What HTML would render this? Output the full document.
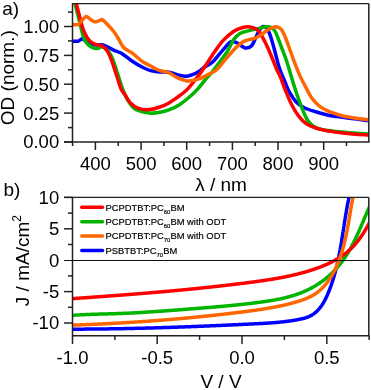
<!DOCTYPE html>
<html><head><meta charset="utf-8"><style>
html,body{margin:0;padding:0;background:#fff;width:371px;height:390px;overflow:hidden;}
svg{display:block;font-family:"Liberation Sans",sans-serif;will-change:transform;}
</style></head><body>
<svg width="371" height="390" viewBox="0 0 371 390" font-family="Liberation Sans, sans-serif" fill="#000"><clipPath id="c1"><rect x="72.5" y="3.6" width="296.3" height="138.4"/></clipPath>
<clipPath id="c2"><rect x="72.5" y="197.4" width="296.3" height="138.4"/></clipPath>
<g clip-path="url(#c1)" fill="none" stroke-width="3.5" stroke-linejoin="round" stroke-linecap="round">
<path d="M72.0,41.2 C73.0,41.2 76.4,41.6 78.1,41.2 C79.8,40.8 80.6,39.0 81.9,39.0 C83.2,39.0 84.7,40.3 86.0,41.0 C87.3,41.7 88.5,42.3 90.0,43.0 C91.5,43.7 92.8,44.7 94.8,45.0 C96.8,45.3 100.0,44.3 102.3,44.8 C104.6,45.2 106.6,46.7 108.8,47.7 C111.0,48.7 113.1,50.0 115.3,50.9 C117.5,51.8 119.0,51.7 121.8,53.4 C124.6,55.1 128.9,59.0 132.3,61.3 C135.7,63.6 139.1,65.5 142.0,67.0 C144.9,68.5 146.8,69.6 149.7,70.4 C152.6,71.2 156.2,71.7 159.4,72.0 C162.6,72.3 165.9,71.8 169.1,72.3 C172.3,72.8 175.8,74.5 178.8,75.2 C181.8,75.9 184.2,76.5 186.9,76.2 C189.6,75.9 192.8,74.5 195.0,73.6 C197.2,72.7 198.3,71.7 200.0,70.6 C201.7,69.5 202.8,68.3 205.0,66.8 C207.2,65.3 210.0,64.5 212.9,61.8 C215.8,59.1 219.6,53.7 222.6,50.4 C225.6,47.1 228.3,43.1 230.7,41.9 C233.1,40.6 234.8,42.0 237.2,43.0 C239.6,44.0 242.9,47.5 245.3,47.9 C247.7,48.3 249.9,47.6 251.8,45.5 C253.7,43.4 255.2,38.2 256.8,35.2 C258.4,32.2 260.2,28.7 261.7,27.4 C263.2,26.1 264.4,26.3 265.8,27.4 C267.2,28.5 268.5,30.8 269.8,34.2 C271.1,37.6 272.3,42.1 273.9,47.7 C275.5,53.3 277.5,62.2 279.3,67.9 C281.1,73.6 283.2,77.6 284.9,81.7 C286.6,85.8 287.8,89.3 289.7,92.7 C291.6,96.0 293.8,99.5 296.2,102.0 C298.6,104.5 301.1,106.1 304.3,107.7 C307.5,109.3 311.6,110.5 315.6,111.8 C319.6,113.0 323.7,114.2 328.5,115.2 C333.3,116.2 337.4,116.6 344.6,117.6 C351.9,118.6 367.4,120.4 372.0,121.0" stroke="#0000ff"/>
<path d="M73.5,-2.0 C73.7,-1.1 73.9,-0.4 74.8,3.2 C75.7,6.8 77.6,14.0 79.0,19.4 C80.4,24.8 81.7,31.6 83.0,35.6 C84.3,39.6 85.3,41.3 86.9,43.3 C88.5,45.3 90.8,46.8 92.6,47.7 C94.4,48.6 95.9,48.6 97.5,48.5 C99.1,48.4 100.5,46.5 102.3,46.9 C104.0,47.3 106.2,48.8 108.0,50.9 C109.8,53.0 111.3,55.8 112.9,59.7 C114.5,63.6 116.2,69.5 117.8,74.3 C119.4,79.1 120.9,84.4 122.6,88.8 C124.3,93.2 125.8,97.0 128.0,100.5 C130.2,104.0 132.2,107.5 135.8,109.6 C139.4,111.7 145.3,112.5 149.3,113.0 C153.3,113.5 156.6,112.9 160.0,112.3 C163.4,111.7 166.3,110.8 169.5,109.6 C172.7,108.4 175.6,107.3 179.1,105.0 C182.6,102.7 187.4,98.8 190.6,96.0 C193.8,93.2 195.9,91.0 198.3,88.3 C200.7,85.6 202.8,82.6 205.0,80.0 C207.2,77.4 209.1,75.7 211.7,72.5 C214.3,69.3 217.8,64.7 220.6,60.9 C223.4,57.1 226.2,53.3 228.3,49.8 C230.5,46.2 231.5,42.5 233.5,39.8 C235.5,37.1 237.6,34.9 240.4,33.3 C243.2,31.7 247.2,31.1 250.1,30.4 C253.0,29.6 255.1,29.4 257.7,28.8 C260.3,28.2 263.6,27.0 265.8,26.8 C268.1,26.6 269.6,26.6 271.2,27.4 C272.8,28.2 273.6,28.6 275.2,31.5 C276.8,34.4 278.7,40.1 280.6,45.0 C282.5,49.9 284.7,55.4 286.5,60.7 C288.3,66.0 289.7,71.3 291.3,76.5 C292.9,81.8 294.4,87.0 296.2,92.3 C298.0,97.6 300.1,103.5 302.0,108.1 C303.9,112.7 305.1,116.8 307.5,120.1 C309.9,123.4 311.8,126.0 316.2,127.8 C320.6,129.7 324.4,130.1 333.7,131.2 C343.0,132.3 365.6,133.8 372.0,134.3" stroke="#00b400"/>
<path d="M74.5,-2.0 C74.8,-1.1 75.4,0.2 76.2,3.2 C77.0,6.2 78.4,12.0 79.5,16.2 C80.6,20.4 81.6,24.8 82.8,28.3 C84.0,31.8 85.5,34.9 86.9,37.2 C88.4,39.6 89.7,41.1 91.5,42.4 C93.3,43.7 95.7,44.4 97.5,45.0 C99.3,45.6 100.7,45.1 102.3,46.1 C103.9,47.1 105.7,48.6 107.2,50.9 C108.7,53.2 109.8,55.8 111.3,59.7 C112.8,63.6 114.6,69.5 116.2,74.3 C117.8,79.1 119.5,85.4 121.0,88.8 C122.5,92.2 123.4,92.4 125.0,94.8 C126.6,97.2 128.2,100.7 130.4,102.9 C132.7,105.2 135.3,107.2 138.5,108.3 C141.7,109.4 145.7,109.8 149.3,109.6 C152.9,109.4 156.8,108.1 160.0,107.0 C163.2,105.9 165.5,104.9 168.5,103.2 C171.5,101.5 174.7,99.2 177.8,97.0 C180.9,94.8 184.3,92.3 186.9,89.8 C189.5,87.3 191.3,84.7 193.5,81.9 C195.7,79.1 197.9,76.5 200.3,73.2 C202.7,69.9 205.3,66.0 207.8,62.2 C210.3,58.4 212.9,54.2 215.5,50.6 C218.1,47.0 220.2,43.6 223.2,40.4 C226.2,37.2 230.4,33.6 233.5,31.5 C236.6,29.4 239.2,28.5 242.0,27.7 C244.8,26.9 247.7,26.6 250.1,26.9 C252.5,27.2 254.9,28.2 256.6,29.3 C258.3,30.4 258.9,31.1 260.4,33.5 C261.9,35.9 264.0,39.9 265.8,43.6 C267.6,47.3 269.4,51.4 271.2,55.7 C273.0,60.0 275.1,65.8 276.6,69.2 C278.1,72.6 278.6,72.8 280.0,76.1 C281.4,79.4 283.0,84.3 284.9,89.0 C286.8,93.7 289.0,99.5 291.3,104.0 C293.6,108.6 296.0,112.8 298.7,116.2 C301.4,119.6 303.5,122.2 307.5,124.5 C311.5,126.8 316.6,128.5 322.8,129.9 C329.0,131.3 336.4,132.3 344.6,133.2 C352.8,134.1 367.4,135.0 372.0,135.4" stroke="#ff0000"/>
<path d="M72.0,24.6 C73.0,24.6 76.4,25.0 78.1,24.3 C79.8,23.6 80.8,21.5 82.1,20.2 C83.4,18.9 85.0,16.8 86.2,16.5 C87.4,16.2 88.1,17.7 89.4,18.6 C90.8,19.5 92.7,21.5 94.3,21.8 C95.9,22.1 97.8,21.1 99.1,20.7 C100.4,20.3 100.9,19.1 102.3,19.7 C103.7,20.3 105.3,22.3 107.2,24.3 C109.1,26.3 111.8,29.1 113.7,31.5 C115.6,33.9 116.8,36.1 118.5,38.8 C120.2,41.5 121.3,45.1 123.6,47.5 C125.9,49.9 129.2,50.9 132.3,53.2 C135.4,55.5 139.1,59.2 142.0,61.3 C144.9,63.3 146.8,64.0 149.7,65.5 C152.6,67.0 156.2,69.2 159.4,70.4 C162.6,71.6 166.1,71.6 169.1,72.8 C172.1,74.0 174.2,76.3 177.2,77.7 C180.2,79.1 183.9,80.5 186.9,80.9 C189.9,81.3 192.8,80.5 195.0,80.1 C197.2,79.7 198.3,79.1 200.0,78.5 C201.7,77.9 203.3,77.1 205.0,76.3 C206.7,75.5 208.1,74.5 210.0,73.5 C211.9,72.5 213.5,72.4 216.2,70.0 C218.8,67.6 222.7,62.5 225.9,58.9 C229.1,55.2 232.6,50.8 235.6,47.9 C238.6,45.0 241.0,42.9 243.7,41.4 C246.4,39.9 249.9,39.5 251.8,39.0 C253.7,38.5 253.3,39.0 255.0,38.2 C256.6,37.4 259.4,35.7 261.7,34.2 C263.9,32.8 266.2,30.7 268.5,29.5 C270.8,28.3 273.2,26.9 275.2,26.8 C277.2,26.7 279.0,27.4 280.6,28.8 C282.2,30.2 283.0,32.0 284.6,35.5 C286.2,39.0 288.5,45.8 290.0,50.0 C291.5,54.1 292.1,56.2 293.7,60.4 C295.3,64.5 297.4,70.1 299.4,74.6 C301.4,79.1 303.8,83.5 305.9,87.5 C308.0,91.5 309.9,95.6 312.3,98.8 C314.7,102.0 317.4,104.7 320.4,106.9 C323.4,109.1 325.7,110.2 330.1,111.8 C334.5,113.4 339.8,115.4 346.8,116.8 C353.8,118.2 367.8,119.7 372.0,120.3" stroke="#ff6600"/>
</g>
<line x1="72.5" y1="3.6" x2="368.8" y2="3.6" stroke="#222" stroke-width="1.20"/>
<line x1="368.8" y1="3.6" x2="368.8" y2="142.0" stroke="#222" stroke-width="1.50"/>
<line x1="64.0" y1="142.0" x2="369.6" y2="142.0" stroke="#222" stroke-width="1.50"/>
<line x1="72.5" y1="3.1" x2="72.5" y2="142.8" stroke="#222" stroke-width="1.50"/>
<line x1="64.0" y1="142.0" x2="72.5" y2="142.0" stroke="#222" stroke-width="1.50"/>
<text x="59.2" y="148.4" text-anchor="end" font-size="18.5">0.00</text>
<line x1="64.0" y1="113.1" x2="72.5" y2="113.1" stroke="#222" stroke-width="1.50"/>
<text x="59.2" y="119.5" text-anchor="end" font-size="18.5">0.25</text>
<line x1="64.0" y1="84.2" x2="72.5" y2="84.2" stroke="#222" stroke-width="1.50"/>
<text x="59.2" y="90.7" text-anchor="end" font-size="18.5">0.50</text>
<line x1="64.0" y1="55.4" x2="72.5" y2="55.4" stroke="#222" stroke-width="1.50"/>
<text x="59.2" y="61.8" text-anchor="end" font-size="18.5">0.75</text>
<line x1="64.0" y1="26.5" x2="72.5" y2="26.5" stroke="#222" stroke-width="1.50"/>
<text x="59.2" y="32.9" text-anchor="end" font-size="18.5">1.00</text>
<line x1="68.0" y1="127.6" x2="72.5" y2="127.6" stroke="#222" stroke-width="1.50"/>
<line x1="68.0" y1="98.7" x2="72.5" y2="98.7" stroke="#222" stroke-width="1.50"/>
<line x1="68.0" y1="69.8" x2="72.5" y2="69.8" stroke="#222" stroke-width="1.50"/>
<line x1="68.0" y1="40.9" x2="72.5" y2="40.9" stroke="#222" stroke-width="1.50"/>
<line x1="68.0" y1="12.1" x2="72.5" y2="12.1" stroke="#222" stroke-width="1.50"/>
<line x1="95.4" y1="142.0" x2="95.4" y2="150.0" stroke="#222" stroke-width="1.50"/>
<text x="95.4" y="170.4" text-anchor="middle" font-size="18.5">400</text>
<line x1="141.1" y1="142.0" x2="141.1" y2="150.0" stroke="#222" stroke-width="1.50"/>
<text x="141.1" y="170.4" text-anchor="middle" font-size="18.5">500</text>
<line x1="186.7" y1="142.0" x2="186.7" y2="150.0" stroke="#222" stroke-width="1.50"/>
<text x="186.7" y="170.4" text-anchor="middle" font-size="18.5">600</text>
<line x1="232.4" y1="142.0" x2="232.4" y2="150.0" stroke="#222" stroke-width="1.50"/>
<text x="232.4" y="170.4" text-anchor="middle" font-size="18.5">700</text>
<line x1="278.0" y1="142.0" x2="278.0" y2="150.0" stroke="#222" stroke-width="1.50"/>
<text x="278.0" y="170.4" text-anchor="middle" font-size="18.5">800</text>
<line x1="323.7" y1="142.0" x2="323.7" y2="150.0" stroke="#222" stroke-width="1.50"/>
<text x="323.7" y="170.4" text-anchor="middle" font-size="18.5">900</text>
<line x1="72.6" y1="142.0" x2="72.6" y2="146.0" stroke="#222" stroke-width="1.50"/>
<line x1="118.2" y1="142.0" x2="118.2" y2="146.0" stroke="#222" stroke-width="1.50"/>
<line x1="163.9" y1="142.0" x2="163.9" y2="146.0" stroke="#222" stroke-width="1.50"/>
<line x1="209.6" y1="142.0" x2="209.6" y2="146.0" stroke="#222" stroke-width="1.50"/>
<line x1="255.2" y1="142.0" x2="255.2" y2="146.0" stroke="#222" stroke-width="1.50"/>
<line x1="300.9" y1="142.0" x2="300.9" y2="146.0" stroke="#222" stroke-width="1.50"/>
<line x1="346.5" y1="142.0" x2="346.5" y2="146.0" stroke="#222" stroke-width="1.50"/>
<text x="221" y="191.3" text-anchor="middle" font-size="19">&#955; / nm</text>
<text transform="translate(14.2,77.7) rotate(-90)" text-anchor="middle" font-size="19">OD (norm.)</text>
<text x="2.3" y="14.6" font-size="19">a)</text>
<g clip-path="url(#c2)" fill="none" stroke-width="3.5" stroke-linejoin="round" stroke-linecap="round">
<path d="M70.84,329.17 L72.84,329.17 L73.34,329.17 L73.84,329.17 L74.34,329.16 L74.84,329.16 L75.33,329.16 L75.83,329.16 L76.33,329.16 L76.83,329.16 L77.32,329.16 L77.82,329.16 L78.32,329.15 L78.82,329.15 L79.31,329.15 L79.81,329.15 L80.31,329.15 L80.80,329.14 L81.30,329.14 L81.80,329.14 L82.29,329.14 L82.79,329.13 L83.29,329.13 L83.78,329.13 L84.28,329.13 L84.78,329.12 L85.27,329.12 L85.77,329.12 L86.27,329.11 L86.76,329.11 L87.26,329.11 L87.76,329.10 L88.25,329.10 L88.75,329.10 L89.24,329.09 L89.74,329.09 L90.24,329.09 L90.73,329.08 L91.23,329.08 L91.72,329.07 L92.22,329.07 L92.72,329.06 L93.21,329.06 L93.71,329.06 L94.20,329.05 L94.70,329.05 L95.19,329.04 L95.69,329.04 L96.18,329.03 L96.68,329.03 L97.17,329.02 L97.67,329.02 L98.17,329.01 L98.66,329.00 L99.16,329.00 L99.65,328.99 L100.15,328.99 L100.64,328.98 L101.14,328.98 L101.63,328.97 L102.13,328.96 L102.62,328.96 L103.12,328.95 L103.61,328.95 L104.10,328.94 L104.60,328.93 L105.09,328.93 L105.59,328.92 L106.08,328.91 L106.58,328.91 L107.07,328.90 L107.57,328.89 L108.06,328.89 L108.56,328.88 L109.05,328.87 L109.54,328.86 L110.04,328.86 L110.53,328.85 L111.03,328.84 L111.52,328.83 L112.01,328.83 L112.51,328.82 L113.00,328.81 L113.50,328.80 L113.99,328.79 L114.48,328.79 L114.98,328.78 L115.47,328.77 L115.97,328.76 L116.46,328.75 L116.95,328.74 L117.45,328.74 L117.94,328.73 L118.44,328.72 L118.93,328.71 L119.42,328.70 L119.92,328.69 L120.41,328.68 L120.90,328.67 L121.40,328.66 L121.89,328.65 L122.38,328.64 L122.88,328.64 L123.37,328.63 L123.86,328.62 L124.36,328.61 L124.85,328.60 L125.34,328.59 L125.84,328.58 L126.33,328.57 L126.82,328.56 L127.32,328.55 L127.81,328.54 L128.30,328.53 L128.80,328.51 L129.29,328.50 L129.78,328.49 L130.28,328.48 L130.77,328.47 L131.26,328.46 L131.75,328.45 L132.25,328.44 L132.74,328.43 L133.23,328.42 L133.73,328.41 L134.22,328.39 L134.71,328.38 L135.20,328.37 L135.70,328.36 L136.19,328.35 L136.68,328.34 L137.18,328.33 L137.67,328.31 L138.16,328.30 L138.65,328.29 L139.15,328.28 L139.64,328.27 L140.13,328.25 L140.62,328.24 L141.12,328.23 L141.61,328.22 L142.10,328.20 L142.60,328.19 L143.09,328.18 L143.58,328.17 L144.07,328.15 L144.57,328.14 L145.06,328.13 L145.55,328.11 L146.04,328.10 L146.54,328.09 L147.03,328.08 L147.52,328.06 L148.01,328.05 L148.51,328.04 L149.00,328.02 L149.49,328.01 L149.98,327.99 L150.48,327.98 L150.97,327.97 L151.46,327.95 L151.95,327.94 L152.44,327.93 L152.94,327.91 L153.43,327.90 L153.92,327.88 L154.41,327.87 L154.91,327.86 L155.40,327.84 L155.89,327.83 L156.38,327.81 L156.88,327.80 L157.37,327.78 L157.86,327.77 L158.35,327.75 L158.85,327.74 L159.34,327.72 L159.83,327.71 L160.32,327.69 L160.81,327.68 L161.31,327.66 L161.80,327.65 L162.29,327.63 L162.78,327.62 L163.28,327.60 L163.77,327.59 L164.26,327.57 L164.75,327.56 L165.25,327.54 L165.74,327.52 L166.23,327.51 L166.72,327.49 L167.21,327.48 L167.71,327.46 L168.20,327.44 L168.69,327.43 L169.18,327.41 L169.68,327.40 L170.17,327.38 L170.66,327.36 L171.15,327.35 L171.65,327.33 L172.14,327.31 L172.63,327.30 L173.12,327.28 L173.62,327.26 L174.11,327.25 L174.60,327.23 L175.09,327.21 L175.59,327.20 L176.08,327.18 L176.57,327.16 L177.06,327.14 L177.56,327.13 L178.05,327.11 L178.54,327.09 L179.03,327.08 L179.53,327.06 L180.02,327.04 L180.51,327.02 L181.00,327.01 L181.50,326.99 L181.99,326.97 L182.48,326.95 L182.97,326.93 L183.47,326.92 L183.96,326.90 L184.45,326.88 L184.94,326.86 L185.44,326.84 L185.93,326.83 L186.42,326.81 L186.91,326.79 L187.41,326.77 L187.90,326.75 L188.39,326.73 L188.89,326.72 L189.38,326.70 L189.87,326.68 L190.36,326.66 L190.86,326.64 L191.35,326.62 L191.84,326.60 L192.34,326.58 L192.83,326.56 L193.32,326.55 L193.82,326.53 L194.31,326.51 L194.80,326.49 L195.29,326.47 L195.79,326.45 L196.28,326.43 L196.77,326.41 L197.27,326.39 L197.76,326.37 L198.25,326.35 L198.75,326.33 L199.24,326.31 L199.73,326.29 L200.23,326.27 L200.72,326.25 L201.21,326.23 L201.71,326.21 L202.20,326.19 L202.69,326.17 L203.19,326.15 L203.68,326.13 L204.17,326.11 L204.67,326.09 L205.16,326.07 L205.66,326.05 L206.15,326.03 L206.64,326.01 L207.14,325.99 L207.63,325.97 L208.12,325.95 L208.62,325.93 L209.11,325.91 L209.61,325.89 L210.10,325.87 L210.59,325.85 L211.09,325.82 L211.58,325.80 L212.08,325.78 L212.57,325.76 L213.06,325.74 L213.56,325.72 L214.05,325.70 L214.55,325.68 L215.04,325.66 L215.53,325.63 L216.03,325.61 L216.52,325.59 L217.02,325.57 L217.51,325.55 L218.01,325.53 L218.50,325.51 L219.00,325.48 L219.49,325.46 L219.99,325.44 L220.48,325.42 L220.97,325.40 L221.47,325.38 L221.96,325.35 L222.46,325.33 L222.95,325.31 L223.45,325.29 L223.94,325.27 L224.44,325.24 L224.93,325.22 L225.43,325.20 L225.92,325.18 L226.42,325.15 L226.92,325.13 L227.41,325.11 L227.91,325.09 L228.40,325.06 L228.90,325.04 L229.39,325.02 L229.89,325.00 L230.38,324.97 L230.88,324.95 L231.37,324.93 L231.87,324.91 L232.37,324.88 L232.86,324.86 L233.36,324.84 L233.85,324.81 L234.35,324.79 L234.85,324.77 L235.34,324.75 L235.84,324.72 L236.33,324.70 L236.83,324.68 L237.33,324.65 L237.82,324.63 L238.32,324.61 L238.82,324.58 L239.31,324.56 L239.81,324.54 L240.31,324.51 L240.80,324.49 L241.30,324.47 L241.80,324.44 L242.29,324.42 L242.79,324.39 L243.29,324.37 L243.78,324.35 L244.28,324.32 L244.78,324.30 L245.27,324.28 L245.77,324.25 L246.27,324.23 L246.77,324.20 L247.26,324.18 L247.76,324.16 L248.26,324.13 L248.76,324.11 L249.25,324.08 L249.75,324.06 L250.25,324.04 L250.75,324.01 L251.24,323.99 L251.74,323.96 L252.24,323.94 L252.74,323.91 L253.24,323.89 L253.74,323.87 L254.23,323.84 L254.73,323.82 L255.23,323.79 L255.73,323.77 L256.23,323.74 L256.73,323.72 L257.22,323.69 L257.72,323.67 L258.22,323.64 L258.72,323.62 L259.22,323.59 L259.72,323.57 L260.22,323.54 L260.71,323.51 L261.21,323.49 L261.71,323.46 L262.21,323.43 L262.71,323.41 L263.21,323.38 L263.70,323.35 L264.20,323.32 L264.70,323.29 L265.20,323.26 L265.70,323.24 L266.19,323.21 L266.69,323.18 L267.19,323.14 L267.69,323.11 L268.19,323.08 L268.68,323.05 L269.18,323.02 L269.68,322.98 L270.17,322.95 L270.67,322.91 L271.17,322.88 L271.66,322.84 L272.16,322.81 L272.66,322.77 L273.15,322.73 L273.65,322.70 L274.14,322.66 L274.64,322.62 L275.13,322.58 L275.63,322.54 L276.12,322.49 L276.62,322.45 L277.11,322.41 L277.61,322.36 L278.10,322.32 L278.60,322.27 L279.09,322.23 L279.58,322.18 L280.07,322.13 L280.57,322.08 L281.06,322.03 L281.55,321.98 L282.04,321.93 L282.53,321.88 L283.03,321.82 L283.52,321.77 L284.01,321.71 L284.50,321.66 L284.99,321.60 L285.48,321.54 L285.97,321.48 L286.45,321.42 L286.94,321.36 L287.43,321.29 L287.92,321.23 L288.41,321.16 L288.89,321.10 L289.38,321.03 L289.86,320.96 L290.35,320.89 L290.84,320.82 L291.32,320.74 L291.80,320.67 L292.29,320.60 L292.77,320.52 L293.26,320.44 L293.74,320.36 L294.22,320.28 L294.70,320.20 L295.18,320.12 L295.66,320.03 L296.14,319.94 L296.62,319.86 L297.10,319.77 L297.58,319.68 L298.06,319.59 L298.54,319.49 L299.02,319.40 L299.49,319.30 L299.97,319.20 L300.44,319.10 L300.92,319.00 L301.39,318.90 L301.87,318.79 L302.34,318.68 L302.81,318.57 L303.28,318.45 L303.75,318.33 L304.21,318.21 L304.68,318.08 L305.14,317.95 L305.60,317.81 L306.06,317.66 L306.51,317.51 L306.96,317.35 L307.41,317.19 L307.86,317.02 L308.30,316.84 L308.75,316.65 L309.18,316.46 L309.62,316.25 L310.05,316.04 L310.47,315.83 L310.89,315.60 L311.31,315.37 L311.73,315.13 L312.14,314.89 L312.54,314.64 L312.94,314.38 L313.34,314.11 L313.73,313.83 L314.11,313.55 L314.49,313.26 L314.87,312.97 L315.24,312.66 L315.60,312.35 L315.96,312.04 L316.32,311.72 L316.67,311.39 L317.02,311.06 L317.36,310.72 L317.70,310.37 L318.03,310.02 L318.36,309.66 L318.69,309.30 L319.01,308.93 L319.33,308.56 L319.64,308.18 L319.95,307.80 L320.25,307.41 L320.55,307.02 L320.85,306.62 L321.14,306.22 L321.43,305.81 L321.72,305.40 L322.00,304.99 L322.27,304.57 L322.55,304.15 L322.82,303.72 L323.08,303.29 L323.35,302.86 L323.61,302.42 L323.86,301.98 L324.12,301.54 L324.37,301.09 L324.61,300.64 L324.85,300.19 L325.09,299.74 L325.33,299.28 L325.56,298.82 L325.79,298.36 L326.02,297.90 L326.25,297.43 L326.47,296.97 L326.69,296.50 L326.90,296.03 L327.12,295.56 L327.33,295.08 L327.53,294.61 L327.74,294.13 L327.94,293.66 L328.14,293.18 L328.34,292.70 L328.54,292.22 L328.73,291.74 L328.92,291.27 L329.11,290.79 L329.30,290.31 L329.48,289.83 L329.66,289.35 L329.84,288.87 L330.02,288.39 L330.20,287.91 L330.37,287.43 L330.54,286.95 L330.71,286.48 L330.88,286.00 L331.05,285.53 L331.21,285.05 L331.38,284.58 L331.54,284.11 L331.70,283.64 L331.86,283.17 L332.01,282.70 L332.17,282.24 L332.32,281.77 L332.48,281.30 L332.63,280.84 L332.78,280.37 L332.92,279.91 L333.07,279.44 L333.22,278.98 L333.36,278.52 L333.50,278.06 L333.64,277.59 L333.78,277.13 L333.92,276.67 L334.06,276.21 L334.19,275.75 L334.33,275.29 L334.46,274.83 L334.59,274.37 L334.72,273.90 L334.85,273.44 L334.98,272.98 L335.11,272.52 L335.23,272.06 L335.36,271.60 L335.48,271.13 L335.60,270.67 L335.72,270.21 L335.84,269.74 L335.96,269.28 L336.08,268.81 L336.20,268.35 L336.31,267.88 L336.43,267.41 L336.54,266.95 L336.66,266.48 L336.77,266.01 L336.88,265.54 L336.99,265.07 L337.10,264.60 L337.21,264.12 L337.32,263.65 L337.42,263.18 L337.53,262.70 L337.63,262.23 L337.74,261.75 L337.84,261.28 L337.95,260.80 L338.05,260.32 L338.15,259.85 L338.25,259.37 L338.35,258.89 L338.45,258.41 L338.55,257.93 L338.64,257.45 L338.74,256.97 L338.84,256.49 L338.93,256.01 L339.03,255.52 L339.12,255.04 L339.21,254.56 L339.31,254.07 L339.40,253.59 L339.49,253.10 L339.58,252.62 L339.67,252.13 L339.76,251.64 L339.85,251.16 L339.94,250.67 L340.03,250.18 L340.12,249.70 L340.20,249.21 L340.29,248.72 L340.38,248.23 L340.46,247.74 L340.55,247.25 L340.63,246.76 L340.72,246.27 L340.80,245.78 L340.88,245.29 L340.97,244.80 L341.05,244.31 L341.13,243.81 L341.21,243.32 L341.30,242.83 L341.38,242.34 L341.46,241.84 L341.54,241.35 L341.62,240.86 L341.70,240.37 L341.78,239.87 L341.86,239.38 L341.94,238.88 L342.02,238.39 L342.10,237.90 L342.17,237.40 L342.25,236.91 L342.33,236.41 L342.41,235.92 L342.49,235.42 L342.56,234.93 L342.64,234.43 L342.72,233.94 L342.80,233.44 L342.87,232.95 L342.95,232.45 L343.03,231.96 L343.10,231.46 L343.18,230.96 L343.26,230.47 L343.34,229.97 L343.41,229.48 L343.49,228.98 L343.57,228.49 L343.64,227.99 L343.72,227.50 L343.80,227.00 L343.87,226.51 L343.95,226.01 L344.03,225.52 L344.10,225.02 L344.18,224.53 L344.26,224.03 L344.33,223.54 L344.41,223.04 L344.49,222.55 L344.57,222.05 L344.64,221.56 L344.72,221.07 L344.80,220.57 L344.88,220.08 L344.96,219.58 L345.04,219.09 L345.12,218.60 L345.20,218.11 L345.27,217.61 L345.35,217.12 L345.43,216.63 L345.52,216.14 L345.60,215.65 L345.68,215.16 L345.76,214.66 L345.84,214.17 L345.92,213.68 L346.01,213.19 L346.09,212.70 L346.17,212.21 L346.26,211.73 L346.34,211.24 L346.42,210.75 L346.51,210.26 L346.59,209.77 L346.68,209.29 L346.77,208.80 L346.85,208.31 L346.94,207.83 L347.03,207.34 L347.12,206.86 L347.21,206.37 L347.30,205.89 L347.39,205.41 L347.48,204.92 L347.57,204.44 L347.66,203.96 L347.75,203.48 L347.85,203.00 L347.94,202.52 L348.03,202.04 L348.13,201.56 L348.22,201.08 L348.32,200.60 L348.42,200.12 L348.52,199.65 L348.61,199.17 L348.71,198.70 L348.81,198.22 L348.91,197.75 L349.02,197.27 L349.12,196.80 L349.22,196.33 L349.33,195.85 L349.43,195.38 L349.54,194.91 L349.64,194.44 L349.75,193.97 L349.86,193.51 L349.97,193.04 L350.08,192.57 L350.19,192.11" stroke="#0000ff"/>
<path d="M70.76,315.44 L72.75,315.30 L73.26,315.27 L73.76,315.23 L74.27,315.20 L74.77,315.17 L75.27,315.13 L75.78,315.10 L76.28,315.07 L76.79,315.04 L77.29,315.01 L77.79,314.98 L78.29,314.95 L78.80,314.92 L79.30,314.90 L79.80,314.87 L80.30,314.84 L80.80,314.82 L81.31,314.79 L81.81,314.77 L82.31,314.74 L82.81,314.72 L83.31,314.69 L83.81,314.67 L84.31,314.65 L84.81,314.63 L85.31,314.60 L85.81,314.58 L86.31,314.56 L86.81,314.54 L87.31,314.52 L87.80,314.50 L88.30,314.48 L88.80,314.46 L89.30,314.44 L89.80,314.42 L90.29,314.41 L90.79,314.39 L91.29,314.37 L91.79,314.35 L92.28,314.34 L92.78,314.32 L93.28,314.30 L93.77,314.29 L94.27,314.27 L94.76,314.25 L95.26,314.24 L95.76,314.22 L96.25,314.21 L96.75,314.19 L97.24,314.18 L97.74,314.16 L98.23,314.15 L98.73,314.13 L99.22,314.12 L99.72,314.11 L100.21,314.09 L100.70,314.08 L101.20,314.06 L101.69,314.05 L102.19,314.04 L102.68,314.02 L103.17,314.01 L103.67,314.00 L104.16,313.98 L104.65,313.97 L105.14,313.95 L105.64,313.94 L106.13,313.93 L106.62,313.91 L107.11,313.90 L107.61,313.89 L108.10,313.87 L108.59,313.86 L109.08,313.85 L109.57,313.83 L110.07,313.82 L110.56,313.80 L111.05,313.79 L111.54,313.78 L112.03,313.76 L112.52,313.75 L113.01,313.73 L113.50,313.72 L113.99,313.70 L114.48,313.69 L114.97,313.67 L115.46,313.66 L115.95,313.64 L116.45,313.62 L116.94,313.61 L117.42,313.59 L117.91,313.57 L118.40,313.56 L118.89,313.54 L119.38,313.52 L119.87,313.50 L120.36,313.49 L120.85,313.47 L121.34,313.45 L121.83,313.43 L122.32,313.41 L122.81,313.39 L123.30,313.37 L123.79,313.35 L124.28,313.33 L124.76,313.31 L125.25,313.29 L125.74,313.27 L126.23,313.25 L126.72,313.22 L127.21,313.20 L127.70,313.18 L128.18,313.16 L128.67,313.13 L129.16,313.11 L129.65,313.09 L130.14,313.06 L130.62,313.04 L131.11,313.02 L131.60,312.99 L132.09,312.97 L132.58,312.94 L133.06,312.92 L133.55,312.89 L134.04,312.87 L134.53,312.84 L135.02,312.82 L135.50,312.79 L135.99,312.76 L136.48,312.74 L136.97,312.71 L137.45,312.68 L137.94,312.66 L138.43,312.63 L138.92,312.60 L139.41,312.57 L139.89,312.55 L140.38,312.52 L140.87,312.49 L141.36,312.46 L141.84,312.43 L142.33,312.40 L142.82,312.37 L143.31,312.35 L143.79,312.32 L144.28,312.29 L144.77,312.26 L145.26,312.23 L145.74,312.20 L146.23,312.17 L146.72,312.13 L147.21,312.10 L147.69,312.07 L148.18,312.04 L148.67,312.01 L149.16,311.98 L149.64,311.95 L150.13,311.92 L150.62,311.88 L151.11,311.85 L151.60,311.82 L152.08,311.79 L152.57,311.75 L153.06,311.72 L153.55,311.69 L154.04,311.66 L154.52,311.62 L155.01,311.59 L155.50,311.56 L155.99,311.52 L156.48,311.49 L156.97,311.45 L157.45,311.42 L157.94,311.39 L158.43,311.35 L158.92,311.32 L159.41,311.28 L159.90,311.25 L160.38,311.21 L160.87,311.18 L161.36,311.14 L161.85,311.11 L162.34,311.07 L162.83,311.04 L163.32,311.00 L163.81,310.97 L164.30,310.93 L164.79,310.89 L165.28,310.86 L165.77,310.82 L166.26,310.79 L166.74,310.75 L167.23,310.71 L167.72,310.68 L168.21,310.64 L168.70,310.60 L169.19,310.57 L169.68,310.53 L170.18,310.49 L170.67,310.46 L171.16,310.42 L171.65,310.38 L172.14,310.34 L172.63,310.31 L173.12,310.27 L173.61,310.23 L174.10,310.20 L174.59,310.16 L175.08,310.12 L175.58,310.08 L176.07,310.04 L176.56,310.01 L177.05,309.97 L177.54,309.93 L178.04,309.89 L178.53,309.86 L179.02,309.82 L179.51,309.78 L180.01,309.74 L180.50,309.70 L180.99,309.66 L181.48,309.63 L181.98,309.59 L182.47,309.55 L182.96,309.51 L183.46,309.47 L183.95,309.43 L184.45,309.40 L184.94,309.36 L185.43,309.32 L185.93,309.28 L186.42,309.24 L186.92,309.20 L187.41,309.17 L187.91,309.13 L188.40,309.09 L188.90,309.05 L189.40,309.01 L189.89,308.97 L190.39,308.93 L190.88,308.89 L191.38,308.86 L191.88,308.82 L192.37,308.78 L192.87,308.74 L193.37,308.70 L193.86,308.66 L194.36,308.62 L194.86,308.59 L195.35,308.55 L195.85,308.51 L196.35,308.47 L196.85,308.43 L197.35,308.39 L197.84,308.35 L198.34,308.31 L198.84,308.27 L199.34,308.23 L199.84,308.20 L200.34,308.16 L200.83,308.12 L201.33,308.08 L201.83,308.04 L202.33,308.00 L202.83,307.96 L203.33,307.92 L203.83,307.88 L204.33,307.84 L204.83,307.80 L205.33,307.76 L205.83,307.72 L206.33,307.68 L206.83,307.64 L207.33,307.60 L207.83,307.56 L208.33,307.52 L208.83,307.48 L209.33,307.43 L209.83,307.39 L210.33,307.35 L210.83,307.31 L211.33,307.27 L211.83,307.23 L212.33,307.19 L212.83,307.15 L213.33,307.10 L213.83,307.06 L214.33,307.02 L214.83,306.98 L215.33,306.94 L215.83,306.89 L216.33,306.85 L216.83,306.81 L217.33,306.76 L217.83,306.72 L218.33,306.68 L218.83,306.63 L219.33,306.59 L219.83,306.55 L220.34,306.50 L220.84,306.46 L221.34,306.41 L221.84,306.37 L222.34,306.33 L222.84,306.28 L223.34,306.24 L223.84,306.19 L224.34,306.14 L224.84,306.10 L225.34,306.05 L225.84,306.01 L226.34,305.96 L226.84,305.91 L227.34,305.87 L227.84,305.82 L228.34,305.77 L228.84,305.73 L229.34,305.68 L229.84,305.63 L230.34,305.58 L230.84,305.54 L231.33,305.49 L231.83,305.44 L232.33,305.39 L232.83,305.34 L233.33,305.29 L233.83,305.24 L234.33,305.19 L234.83,305.14 L235.33,305.09 L235.82,305.04 L236.32,304.99 L236.82,304.94 L237.32,304.89 L237.82,304.84 L238.32,304.78 L238.81,304.73 L239.31,304.68 L239.81,304.63 L240.31,304.57 L240.80,304.52 L241.30,304.47 L241.80,304.41 L242.29,304.36 L242.79,304.31 L243.29,304.25 L243.78,304.20 L244.28,304.14 L244.77,304.08 L245.27,304.03 L245.77,303.97 L246.26,303.92 L246.76,303.86 L247.25,303.80 L247.75,303.74 L248.24,303.69 L248.74,303.63 L249.23,303.57 L249.72,303.51 L250.22,303.45 L250.71,303.39 L251.21,303.33 L251.70,303.27 L252.19,303.21 L252.68,303.15 L253.18,303.09 L253.67,303.03 L254.16,302.97 L254.65,302.90 L255.15,302.84 L255.64,302.78 L256.13,302.72 L256.62,302.65 L257.11,302.59 L257.60,302.52 L258.09,302.46 L258.58,302.39 L259.07,302.33 L259.56,302.26 L260.05,302.19 L260.54,302.13 L261.03,302.06 L261.52,301.99 L262.00,301.93 L262.49,301.86 L262.98,301.79 L263.47,301.72 L263.96,301.65 L264.44,301.58 L264.93,301.51 L265.41,301.44 L265.90,301.37 L266.39,301.29 L266.87,301.22 L267.36,301.15 L267.84,301.07 L268.33,301.00 L268.81,300.92 L269.29,300.85 L269.78,300.77 L270.26,300.69 L270.74,300.61 L271.23,300.53 L271.71,300.45 L272.19,300.37 L272.67,300.29 L273.15,300.21 L273.63,300.12 L274.11,300.04 L274.59,299.95 L275.07,299.87 L275.55,299.78 L276.03,299.69 L276.51,299.60 L276.99,299.51 L277.47,299.42 L277.94,299.33 L278.42,299.23 L278.90,299.14 L279.37,299.04 L279.85,298.94 L280.33,298.84 L280.80,298.74 L281.28,298.64 L281.75,298.54 L282.22,298.43 L282.70,298.33 L283.17,298.22 L283.64,298.11 L284.12,298.00 L284.59,297.89 L285.06,297.78 L285.53,297.66 L286.00,297.55 L286.47,297.43 L286.94,297.31 L287.41,297.19 L287.88,297.07 L288.35,296.94 L288.82,296.82 L289.28,296.69 L289.75,296.56 L290.22,296.43 L290.68,296.30 L291.15,296.16 L291.62,296.03 L292.08,295.89 L292.55,295.75 L293.01,295.61 L293.47,295.46 L293.94,295.32 L294.40,295.17 L294.86,295.02 L295.32,294.87 L295.78,294.72 L296.24,294.56 L296.70,294.40 L297.16,294.24 L297.62,294.08 L298.08,293.92 L298.54,293.75 L299.00,293.58 L299.45,293.41 L299.91,293.24 L300.37,293.06 L300.82,292.89 L301.28,292.71 L301.73,292.53 L302.18,292.34 L302.64,292.15 L303.09,291.97 L303.54,291.77 L303.99,291.58 L304.45,291.38 L304.90,291.18 L305.35,290.98 L305.80,290.78 L306.24,290.57 L306.69,290.36 L307.14,290.15 L307.59,289.94 L308.03,289.72 L308.48,289.50 L308.92,289.28 L309.37,289.06 L309.81,288.83 L310.25,288.60 L310.69,288.37 L311.13,288.14 L311.57,287.90 L312.01,287.67 L312.45,287.43 L312.88,287.18 L313.32,286.94 L313.75,286.69 L314.18,286.44 L314.61,286.19 L315.04,285.94 L315.47,285.68 L315.90,285.42 L316.33,285.16 L316.75,284.90 L317.18,284.63 L317.60,284.37 L318.02,284.10 L318.44,283.82 L318.86,283.55 L319.27,283.27 L319.69,283.00 L320.10,282.72 L320.51,282.43 L320.92,282.15 L321.33,281.86 L321.74,281.57 L322.14,281.28 L322.55,280.99 L322.95,280.69 L323.35,280.40 L323.75,280.10 L324.14,279.80 L324.54,279.49 L324.93,279.19 L325.32,278.88 L325.71,278.57 L326.10,278.26 L326.48,277.95 L326.86,277.63 L327.24,277.31 L327.62,277.00 L328.00,276.67 L328.37,276.35 L328.74,276.03 L329.12,275.70 L329.48,275.37 L329.85,275.04 L330.21,274.71 L330.58,274.37 L330.94,274.04 L331.30,273.70 L331.65,273.36 L332.01,273.02 L332.36,272.67 L332.71,272.33 L333.06,271.98 L333.40,271.63 L333.75,271.28 L334.09,270.93 L334.43,270.58 L334.77,270.22 L335.11,269.86 L335.44,269.50 L335.77,269.14 L336.11,268.78 L336.43,268.42 L336.76,268.05 L337.09,267.68 L337.41,267.31 L337.73,266.94 L338.05,266.57 L338.37,266.19 L338.68,265.82 L339.00,265.44 L339.31,265.06 L339.62,264.68 L339.93,264.30 L340.23,263.92 L340.54,263.53 L340.84,263.14 L341.14,262.75 L341.44,262.36 L341.73,261.97 L342.03,261.58 L342.32,261.19 L342.61,260.79 L342.90,260.39 L343.19,259.99 L343.48,259.59 L343.76,259.19 L344.04,258.79 L344.32,258.39 L344.60,257.98 L344.88,257.57 L345.15,257.16 L345.42,256.75 L345.70,256.34 L345.97,255.93 L346.23,255.52 L346.50,255.10 L346.76,254.68 L347.03,254.27 L347.29,253.85 L347.55,253.43 L347.80,253.01 L348.06,252.58 L348.32,252.16 L348.57,251.74 L348.82,251.31 L349.07,250.88 L349.32,250.46 L349.57,250.03 L349.81,249.60 L350.06,249.17 L350.30,248.73 L350.54,248.30 L350.78,247.87 L351.02,247.43 L351.26,247.00 L351.49,246.56 L351.73,246.12 L351.96,245.68 L352.19,245.24 L352.42,244.80 L352.65,244.36 L352.88,243.92 L353.11,243.48 L353.34,243.04 L353.56,242.59 L353.79,242.15 L354.01,241.70 L354.23,241.26 L354.45,240.81 L354.67,240.36 L354.89,239.91 L355.11,239.47 L355.32,239.02 L355.54,238.57 L355.76,238.12 L355.97,237.67 L356.18,237.21 L356.39,236.76 L356.61,236.31 L356.82,235.86 L357.03,235.40 L357.23,234.95 L357.44,234.50 L357.65,234.04 L357.86,233.59 L358.06,233.13 L358.27,232.68 L358.47,232.22 L358.68,231.77 L358.88,231.31 L359.08,230.85 L359.28,230.40 L359.48,229.94 L359.68,229.48 L359.88,229.03 L360.08,228.57 L360.28,228.11 L360.48,227.65 L360.68,227.19 L360.88,226.74 L361.07,226.28 L361.27,225.82 L361.47,225.36 L361.66,224.90 L361.86,224.45 L362.05,223.99 L362.25,223.53 L362.44,223.07 L362.64,222.62 L362.83,222.16 L363.03,221.70 L363.22,221.24 L363.41,220.79 L363.61,220.33 L363.80,219.87 L363.99,219.41 L364.18,218.96 L364.38,218.50 L364.57,218.05 L364.76,217.59 L364.95,217.14 L365.15,216.68 L365.34,216.23 L365.53,215.77 L365.72,215.32 L365.92,214.86 L366.11,214.41 L366.30,213.96 L366.49,213.51 L366.69,213.05 L366.88,212.60 L367.07,212.15 L367.27,211.70 L367.46,211.25 L367.65,210.80 L367.85,210.36 L368.04,209.91 L368.23,209.46 L368.43,209.01 L368.62,208.57 L368.82,208.12 L369.02,207.68 L369.21,207.23 L369.41,206.79 L369.61,206.35 L369.80,205.91 L370.00,205.47 L370.20,205.03 L370.40,204.59 L370.60,204.15 L370.80,203.71 L371.00,203.27 L371.20,202.84 L371.40,202.40 L371.60,201.97 L371.80,201.54 L372.01,201.11" stroke="#00b400"/>
<path d="M71.00,298.73 L73.00,298.59 L73.48,298.56 L73.97,298.52 L74.45,298.49 L74.94,298.45 L75.42,298.42 L75.91,298.39 L76.39,298.35 L76.88,298.32 L77.36,298.28 L77.85,298.25 L78.33,298.22 L78.82,298.18 L79.30,298.15 L79.79,298.11 L80.27,298.08 L80.76,298.05 L81.25,298.01 L81.73,297.98 L82.22,297.94 L82.70,297.91 L83.19,297.88 L83.68,297.84 L84.16,297.81 L84.65,297.77 L85.14,297.74 L85.62,297.70 L86.11,297.67 L86.60,297.64 L87.08,297.60 L87.57,297.57 L88.06,297.53 L88.55,297.50 L89.03,297.46 L89.52,297.43 L90.01,297.39 L90.49,297.36 L90.98,297.32 L91.47,297.29 L91.96,297.25 L92.45,297.22 L92.93,297.18 L93.42,297.15 L93.91,297.11 L94.40,297.08 L94.89,297.04 L95.38,297.01 L95.86,296.97 L96.35,296.94 L96.84,296.90 L97.33,296.87 L97.82,296.83 L98.31,296.80 L98.80,296.76 L99.29,296.73 L99.77,296.69 L100.26,296.66 L100.75,296.62 L101.24,296.59 L101.73,296.55 L102.22,296.51 L102.71,296.48 L103.20,296.44 L103.69,296.41 L104.18,296.37 L104.67,296.34 L105.16,296.30 L105.65,296.26 L106.14,296.23 L106.63,296.19 L107.12,296.16 L107.61,296.12 L108.10,296.08 L108.59,296.05 L109.08,296.01 L109.57,295.97 L110.06,295.94 L110.55,295.90 L111.04,295.87 L111.53,295.83 L112.02,295.79 L112.51,295.76 L113.01,295.72 L113.50,295.68 L113.99,295.65 L114.48,295.61 L114.97,295.57 L115.46,295.53 L115.95,295.50 L116.44,295.46 L116.93,295.42 L117.43,295.39 L117.92,295.35 L118.41,295.31 L118.90,295.27 L119.39,295.24 L119.88,295.20 L120.37,295.16 L120.87,295.13 L121.36,295.09 L121.85,295.05 L122.34,295.01 L122.83,294.97 L123.33,294.94 L123.82,294.90 L124.31,294.86 L124.80,294.82 L125.29,294.79 L125.79,294.75 L126.28,294.71 L126.77,294.67 L127.26,294.63 L127.76,294.59 L128.25,294.56 L128.74,294.52 L129.23,294.48 L129.73,294.44 L130.22,294.40 L130.71,294.36 L131.20,294.32 L131.70,294.29 L132.19,294.25 L132.68,294.21 L133.18,294.17 L133.67,294.13 L134.16,294.09 L134.65,294.05 L135.15,294.01 L135.64,293.97 L136.13,293.93 L136.63,293.89 L137.12,293.86 L137.61,293.82 L138.11,293.78 L138.60,293.74 L139.09,293.70 L139.59,293.66 L140.08,293.62 L140.57,293.58 L141.07,293.54 L141.56,293.50 L142.05,293.46 L142.55,293.42 L143.04,293.38 L143.53,293.34 L144.03,293.30 L144.52,293.25 L145.01,293.21 L145.51,293.17 L146.00,293.13 L146.49,293.09 L146.99,293.05 L147.48,293.01 L147.98,292.97 L148.47,292.93 L148.96,292.89 L149.46,292.85 L149.95,292.80 L150.45,292.76 L150.94,292.72 L151.43,292.68 L151.93,292.64 L152.42,292.60 L152.91,292.55 L153.41,292.51 L153.90,292.47 L154.40,292.43 L154.89,292.39 L155.39,292.34 L155.88,292.30 L156.37,292.26 L156.87,292.22 L157.36,292.18 L157.86,292.13 L158.35,292.09 L158.84,292.05 L159.34,292.00 L159.83,291.96 L160.33,291.92 L160.82,291.88 L161.31,291.83 L161.81,291.79 L162.30,291.75 L162.80,291.70 L163.29,291.66 L163.79,291.62 L164.28,291.57 L164.77,291.53 L165.27,291.48 L165.76,291.44 L166.26,291.40 L166.75,291.35 L167.25,291.31 L167.74,291.26 L168.23,291.22 L168.73,291.17 L169.22,291.13 L169.72,291.09 L170.21,291.04 L170.71,291.00 L171.20,290.95 L171.69,290.91 L172.19,290.86 L172.68,290.82 L173.18,290.77 L173.67,290.73 L174.17,290.68 L174.66,290.63 L175.15,290.59 L175.65,290.54 L176.14,290.50 L176.64,290.45 L177.13,290.41 L177.63,290.36 L178.12,290.31 L178.61,290.27 L179.11,290.22 L179.60,290.17 L180.10,290.13 L180.59,290.08 L181.09,290.03 L181.58,289.99 L182.07,289.94 L182.57,289.89 L183.06,289.85 L183.56,289.80 L184.05,289.75 L184.54,289.70 L185.04,289.66 L185.53,289.61 L186.03,289.56 L186.52,289.51 L187.01,289.47 L187.51,289.42 L188.00,289.37 L188.50,289.32 L188.99,289.27 L189.48,289.23 L189.98,289.18 L190.47,289.13 L190.97,289.08 L191.46,289.03 L191.95,288.98 L192.45,288.93 L192.94,288.88 L193.43,288.83 L193.93,288.78 L194.42,288.74 L194.92,288.69 L195.41,288.64 L195.90,288.59 L196.40,288.54 L196.89,288.49 L197.38,288.44 L197.88,288.39 L198.37,288.34 L198.86,288.29 L199.36,288.23 L199.85,288.18 L200.34,288.13 L200.84,288.08 L201.33,288.03 L201.82,287.98 L202.32,287.93 L202.81,287.88 L203.30,287.83 L203.80,287.78 L204.29,287.72 L204.78,287.67 L205.28,287.62 L205.77,287.57 L206.26,287.52 L206.75,287.46 L207.25,287.41 L207.74,287.36 L208.23,287.31 L208.73,287.25 L209.22,287.20 L209.71,287.15 L210.20,287.10 L210.70,287.04 L211.19,286.99 L211.68,286.94 L212.17,286.88 L212.67,286.83 L213.16,286.77 L213.65,286.72 L214.14,286.67 L214.63,286.61 L215.13,286.56 L215.62,286.50 L216.11,286.45 L216.60,286.40 L217.10,286.34 L217.59,286.29 L218.08,286.23 L218.57,286.18 L219.06,286.12 L219.55,286.07 L220.05,286.01 L220.54,285.95 L221.03,285.90 L221.52,285.84 L222.01,285.79 L222.50,285.73 L223.00,285.67 L223.49,285.62 L223.98,285.56 L224.47,285.51 L224.96,285.45 L225.45,285.39 L225.94,285.34 L226.43,285.28 L226.92,285.22 L227.42,285.16 L227.91,285.11 L228.40,285.05 L228.89,284.99 L229.38,284.93 L229.87,284.88 L230.36,284.82 L230.85,284.76 L231.34,284.70 L231.83,284.64 L232.32,284.58 L232.81,284.53 L233.30,284.47 L233.79,284.41 L234.28,284.35 L234.77,284.29 L235.26,284.23 L235.75,284.17 L236.24,284.11 L236.73,284.05 L237.22,283.99 L237.71,283.93 L238.20,283.87 L238.69,283.81 L239.18,283.75 L239.67,283.69 L240.16,283.63 L240.64,283.57 L241.13,283.51 L241.62,283.45 L242.11,283.38 L242.60,283.32 L243.09,283.26 L243.58,283.20 L244.07,283.14 L244.55,283.08 L245.04,283.01 L245.53,282.95 L246.02,282.89 L246.51,282.83 L247.00,282.76 L247.48,282.70 L247.97,282.64 L248.46,282.57 L248.95,282.51 L249.43,282.45 L249.92,282.38 L250.41,282.32 L250.90,282.26 L251.38,282.19 L251.87,282.13 L252.36,282.06 L252.85,282.00 L253.33,281.94 L253.82,281.87 L254.31,281.81 L254.79,281.74 L255.28,281.67 L255.77,281.61 L256.25,281.54 L256.74,281.48 L257.23,281.41 L257.71,281.34 L258.20,281.28 L258.68,281.21 L259.17,281.14 L259.66,281.07 L260.14,281.00 L260.63,280.94 L261.11,280.87 L261.60,280.80 L262.08,280.73 L262.57,280.66 L263.05,280.59 L263.54,280.52 L264.02,280.45 L264.51,280.37 L264.99,280.30 L265.48,280.23 L265.96,280.16 L266.45,280.08 L266.93,280.01 L267.42,279.94 L267.90,279.86 L268.38,279.79 L268.87,279.71 L269.35,279.64 L269.84,279.56 L270.32,279.48 L270.80,279.41 L271.29,279.33 L271.77,279.25 L272.25,279.17 L272.74,279.09 L273.22,279.01 L273.70,278.93 L274.19,278.85 L274.67,278.77 L275.15,278.69 L275.63,278.60 L276.12,278.52 L276.60,278.44 L277.08,278.35 L277.56,278.27 L278.04,278.18 L278.53,278.09 L279.01,278.01 L279.49,277.92 L279.97,277.83 L280.45,277.74 L280.93,277.65 L281.42,277.56 L281.90,277.47 L282.38,277.38 L282.86,277.28 L283.34,277.19 L283.82,277.10 L284.30,277.00 L284.78,276.91 L285.26,276.81 L285.74,276.71 L286.22,276.61 L286.70,276.52 L287.18,276.42 L287.66,276.32 L288.14,276.21 L288.62,276.11 L289.10,276.01 L289.58,275.91 L290.06,275.80 L290.53,275.70 L291.01,275.59 L291.49,275.48 L291.97,275.38 L292.45,275.27 L292.93,275.16 L293.40,275.05 L293.88,274.94 L294.36,274.82 L294.84,274.71 L295.32,274.60 L295.79,274.48 L296.27,274.36 L296.75,274.25 L297.22,274.13 L297.70,274.01 L298.18,273.89 L298.66,273.77 L299.13,273.65 L299.61,273.52 L300.08,273.40 L300.56,273.27 L301.04,273.15 L301.51,273.02 L301.99,272.89 L302.46,272.76 L302.94,272.63 L303.41,272.50 L303.89,272.37 L304.36,272.23 L304.84,272.10 L305.31,271.96 L305.79,271.83 L306.26,271.69 L306.74,271.55 L307.21,271.41 L307.69,271.27 L308.16,271.12 L308.63,270.98 L309.11,270.83 L309.58,270.69 L310.05,270.54 L310.53,270.39 L311.00,270.24 L311.47,270.09 L311.95,269.94 L312.42,269.78 L312.89,269.63 L313.36,269.47 L313.83,269.31 L314.31,269.15 L314.78,268.99 L315.25,268.83 L315.72,268.67 L316.19,268.50 L316.66,268.34 L317.13,268.17 L317.60,268.00 L318.07,267.83 L318.54,267.66 L319.00,267.49 L319.47,267.31 L319.94,267.14 L320.40,266.96 L320.87,266.78 L321.34,266.60 L321.80,266.42 L322.26,266.23 L322.73,266.05 L323.19,265.86 L323.65,265.67 L324.11,265.48 L324.57,265.29 L325.03,265.09 L325.49,264.90 L325.94,264.70 L326.40,264.50 L326.85,264.30 L327.31,264.10 L327.76,263.89 L328.21,263.68 L328.67,263.48 L329.12,263.27 L329.56,263.05 L330.01,262.84 L330.46,262.62 L330.90,262.41 L331.35,262.19 L331.79,261.96 L332.23,261.74 L332.67,261.51 L333.11,261.29 L333.55,261.06 L333.98,260.82 L334.42,260.59 L334.85,260.35 L335.28,260.11 L335.71,259.87 L336.14,259.63 L336.57,259.39 L336.99,259.14 L337.42,258.89 L337.84,258.64 L338.26,258.38 L338.68,258.13 L339.10,257.87 L339.51,257.61 L339.93,257.34 L340.34,257.08 L340.75,256.81 L341.16,256.54 L341.56,256.27 L341.97,255.99 L342.37,255.72 L342.77,255.44 L343.17,255.15 L343.56,254.87 L343.96,254.58 L344.35,254.29 L344.74,254.00 L345.13,253.71 L345.52,253.41 L345.90,253.11 L346.28,252.81 L346.66,252.50 L347.04,252.19 L347.41,251.88 L347.78,251.57 L348.15,251.25 L348.52,250.93 L348.89,250.61 L349.25,250.29 L349.61,249.96 L349.97,249.63 L350.32,249.30 L350.68,248.97 L351.03,248.63 L351.38,248.29 L351.72,247.94 L352.07,247.60 L352.41,247.25 L352.74,246.90 L353.08,246.54 L353.41,246.19 L353.75,245.83 L354.07,245.47 L354.40,245.10 L354.73,244.74 L355.05,244.37 L355.37,244.00 L355.69,243.63 L356.00,243.25 L356.32,242.87 L356.63,242.50 L356.94,242.11 L357.24,241.73 L357.55,241.35 L357.85,240.96 L358.15,240.57 L358.45,240.18 L358.75,239.78 L359.05,239.39 L359.34,238.99 L359.63,238.59 L359.92,238.19 L360.21,237.79 L360.50,237.38 L360.78,236.98 L361.06,236.57 L361.34,236.16 L361.62,235.75 L361.90,235.34 L362.18,234.93 L362.45,234.51 L362.72,234.10 L362.99,233.68 L363.26,233.26 L363.53,232.84 L363.79,232.42 L364.06,232.00 L364.32,231.57 L364.58,231.15 L364.84,230.72 L365.10,230.29 L365.36,229.87 L365.61,229.44 L365.87,229.01 L366.12,228.58 L366.37,228.14 L366.62,227.71 L366.87,227.28 L367.12,226.84 L367.36,226.41 L367.61,225.97 L367.85,225.53 L368.10,225.10 L368.34,224.66 L368.58,224.22 L368.82,223.78 L369.06,223.34 L369.29,222.90 L369.53,222.46 L369.76,222.02 L370.00,221.58 L370.23,221.14 L370.46,220.70 L370.69,220.26 L370.92,219.81 L371.15,219.37 L371.38,218.93 L371.61,218.49" stroke="#ff0000"/>
<path d="M70.81,325.20 L72.81,325.13 L73.31,325.11 L73.81,325.10 L74.31,325.08 L74.80,325.06 L75.30,325.04 L75.80,325.02 L76.30,325.01 L76.80,324.99 L77.30,324.97 L77.80,324.95 L78.30,324.93 L78.79,324.91 L79.29,324.90 L79.79,324.88 L80.29,324.86 L80.79,324.84 L81.29,324.82 L81.78,324.80 L82.28,324.78 L82.78,324.76 L83.28,324.74 L83.77,324.72 L84.27,324.70 L84.77,324.68 L85.27,324.66 L85.76,324.64 L86.26,324.62 L86.76,324.60 L87.26,324.58 L87.75,324.56 L88.25,324.54 L88.75,324.52 L89.24,324.50 L89.74,324.48 L90.24,324.45 L90.73,324.43 L91.23,324.41 L91.73,324.39 L92.22,324.37 L92.72,324.35 L93.21,324.33 L93.71,324.30 L94.21,324.28 L94.70,324.26 L95.20,324.24 L95.69,324.22 L96.19,324.19 L96.69,324.17 L97.18,324.15 L97.68,324.12 L98.17,324.10 L98.67,324.08 L99.16,324.06 L99.66,324.03 L100.15,324.01 L100.65,323.99 L101.14,323.96 L101.64,323.94 L102.13,323.91 L102.63,323.89 L103.12,323.87 L103.62,323.84 L104.11,323.82 L104.61,323.79 L105.10,323.77 L105.59,323.75 L106.09,323.72 L106.58,323.70 L107.08,323.67 L107.57,323.65 L108.07,323.62 L108.56,323.60 L109.05,323.57 L109.55,323.55 L110.04,323.52 L110.54,323.49 L111.03,323.47 L111.52,323.44 L112.02,323.42 L112.51,323.39 L113.00,323.36 L113.50,323.34 L113.99,323.31 L114.48,323.28 L114.98,323.26 L115.47,323.23 L115.96,323.20 L116.46,323.18 L116.95,323.15 L117.44,323.12 L117.94,323.10 L118.43,323.07 L118.92,323.04 L119.41,323.01 L119.91,322.99 L120.40,322.96 L120.89,322.93 L121.38,322.90 L121.88,322.87 L122.37,322.84 L122.86,322.82 L123.35,322.79 L123.85,322.76 L124.34,322.73 L124.83,322.70 L125.32,322.67 L125.82,322.64 L126.31,322.61 L126.80,322.58 L127.29,322.55 L127.78,322.52 L128.28,322.49 L128.77,322.46 L129.26,322.43 L129.75,322.40 L130.24,322.37 L130.74,322.34 L131.23,322.31 L131.72,322.28 L132.21,322.25 L132.70,322.22 L133.19,322.19 L133.69,322.16 L134.18,322.13 L134.67,322.09 L135.16,322.06 L135.65,322.03 L136.14,322.00 L136.63,321.97 L137.13,321.94 L137.62,321.90 L138.11,321.87 L138.60,321.84 L139.09,321.81 L139.58,321.77 L140.07,321.74 L140.56,321.71 L141.05,321.67 L141.55,321.64 L142.04,321.61 L142.53,321.57 L143.02,321.54 L143.51,321.51 L144.00,321.47 L144.49,321.44 L144.98,321.41 L145.47,321.37 L145.96,321.34 L146.45,321.30 L146.94,321.27 L147.43,321.23 L147.93,321.20 L148.42,321.16 L148.91,321.13 L149.40,321.09 L149.89,321.06 L150.38,321.02 L150.87,320.99 L151.36,320.95 L151.85,320.92 L152.34,320.88 L152.83,320.84 L153.32,320.81 L153.81,320.77 L154.30,320.73 L154.79,320.70 L155.28,320.66 L155.77,320.62 L156.26,320.59 L156.75,320.55 L157.24,320.51 L157.73,320.48 L158.22,320.44 L158.71,320.40 L159.20,320.36 L159.69,320.32 L160.18,320.29 L160.67,320.25 L161.16,320.21 L161.65,320.17 L162.14,320.13 L162.63,320.09 L163.12,320.06 L163.61,320.02 L164.10,319.98 L164.59,319.94 L165.08,319.90 L165.57,319.86 L166.06,319.82 L166.55,319.78 L167.04,319.74 L167.53,319.70 L168.02,319.66 L168.51,319.62 L169.00,319.58 L169.49,319.54 L169.98,319.50 L170.47,319.46 L170.96,319.42 L171.45,319.38 L171.94,319.33 L172.43,319.29 L172.92,319.25 L173.41,319.21 L173.90,319.17 L174.39,319.13 L174.88,319.08 L175.37,319.04 L175.86,319.00 L176.35,318.96 L176.84,318.91 L177.33,318.87 L177.82,318.83 L178.31,318.79 L178.80,318.74 L179.29,318.70 L179.78,318.66 L180.27,318.61 L180.76,318.57 L181.25,318.52 L181.74,318.48 L182.23,318.44 L182.72,318.39 L183.21,318.35 L183.70,318.30 L184.19,318.26 L184.68,318.21 L185.17,318.17 L185.66,318.12 L186.15,318.08 L186.64,318.03 L187.13,317.99 L187.62,317.94 L188.11,317.90 L188.60,317.85 L189.09,317.80 L189.58,317.76 L190.07,317.71 L190.56,317.66 L191.05,317.62 L191.54,317.57 L192.03,317.52 L192.52,317.48 L193.01,317.43 L193.50,317.38 L193.99,317.33 L194.48,317.29 L194.97,317.24 L195.46,317.19 L195.95,317.14 L196.44,317.09 L196.93,317.05 L197.42,317.00 L197.91,316.95 L198.40,316.90 L198.89,316.85 L199.39,316.80 L199.88,316.75 L200.37,316.70 L200.86,316.65 L201.35,316.60 L201.84,316.55 L202.33,316.50 L202.82,316.45 L203.31,316.40 L203.80,316.35 L204.29,316.30 L204.78,316.25 L205.27,316.20 L205.76,316.15 L206.25,316.10 L206.74,316.05 L207.23,316.00 L207.73,315.94 L208.22,315.89 L208.71,315.84 L209.20,315.79 L209.69,315.74 L210.18,315.68 L210.67,315.63 L211.16,315.58 L211.65,315.53 L212.14,315.47 L212.64,315.42 L213.13,315.37 L213.62,315.31 L214.11,315.26 L214.60,315.21 L215.09,315.15 L215.58,315.10 L216.07,315.04 L216.57,314.99 L217.06,314.94 L217.55,314.88 L218.04,314.83 L218.53,314.77 L219.02,314.72 L219.51,314.66 L220.01,314.61 L220.50,314.55 L220.99,314.49 L221.48,314.44 L221.97,314.38 L222.47,314.33 L222.96,314.27 L223.45,314.21 L223.94,314.16 L224.43,314.10 L224.93,314.04 L225.42,313.99 L225.91,313.93 L226.40,313.87 L226.89,313.81 L227.39,313.76 L227.88,313.70 L228.37,313.64 L228.86,313.58 L229.36,313.52 L229.85,313.47 L230.34,313.41 L230.83,313.35 L231.33,313.29 L231.82,313.23 L232.31,313.17 L232.80,313.11 L233.30,313.05 L233.79,312.99 L234.28,312.93 L234.78,312.87 L235.27,312.81 L235.76,312.75 L236.26,312.69 L236.75,312.63 L237.24,312.57 L237.74,312.51 L238.23,312.45 L238.72,312.39 L239.22,312.32 L239.71,312.26 L240.20,312.20 L240.70,312.14 L241.19,312.08 L241.68,312.01 L242.18,311.95 L242.67,311.89 L243.17,311.83 L243.66,311.76 L244.15,311.70 L244.65,311.64 L245.14,311.57 L245.64,311.51 L246.13,311.45 L246.63,311.38 L247.12,311.32 L247.62,311.25 L248.11,311.19 L248.60,311.13 L249.10,311.06 L249.59,310.99 L250.09,310.93 L250.58,310.86 L251.08,310.80 L251.57,310.73 L252.07,310.66 L252.56,310.60 L253.06,310.53 L253.55,310.46 L254.04,310.39 L254.54,310.33 L255.03,310.26 L255.53,310.19 L256.02,310.12 L256.52,310.05 L257.01,309.98 L257.51,309.91 L258.00,309.84 L258.49,309.76 L258.99,309.69 L259.48,309.62 L259.98,309.55 L260.47,309.47 L260.96,309.40 L261.46,309.32 L261.95,309.25 L262.44,309.17 L262.94,309.10 L263.43,309.02 L263.92,308.94 L264.41,308.86 L264.91,308.79 L265.40,308.71 L265.89,308.63 L266.38,308.55 L266.88,308.47 L267.37,308.38 L267.86,308.30 L268.35,308.22 L268.84,308.14 L269.33,308.05 L269.83,307.97 L270.32,307.88 L270.81,307.79 L271.30,307.71 L271.79,307.62 L272.28,307.53 L272.77,307.44 L273.26,307.35 L273.75,307.26 L274.23,307.17 L274.72,307.08 L275.21,306.98 L275.70,306.89 L276.19,306.79 L276.68,306.70 L277.16,306.60 L277.65,306.50 L278.14,306.40 L278.62,306.30 L279.11,306.20 L279.60,306.10 L280.08,306.00 L280.57,305.90 L281.05,305.79 L281.54,305.69 L282.02,305.58 L282.51,305.48 L282.99,305.37 L283.47,305.26 L283.96,305.15 L284.44,305.04 L284.92,304.93 L285.40,304.81 L285.89,304.70 L286.37,304.58 L286.85,304.47 L287.33,304.35 L287.81,304.23 L288.29,304.11 L288.77,303.99 L289.25,303.87 L289.73,303.75 L290.20,303.62 L290.68,303.50 L291.16,303.37 L291.64,303.24 L292.11,303.11 L292.59,302.98 L293.07,302.85 L293.54,302.72 L294.02,302.59 L294.49,302.45 L294.96,302.31 L295.44,302.18 L295.91,302.04 L296.38,301.90 L296.86,301.76 L297.33,301.61 L297.80,301.47 L298.27,301.32 L298.74,301.18 L299.21,301.03 L299.68,300.88 L300.14,300.73 L300.61,300.57 L301.08,300.42 L301.54,300.26 L302.01,300.10 L302.47,299.94 L302.93,299.78 L303.39,299.61 L303.85,299.44 L304.31,299.27 L304.77,299.10 L305.22,298.92 L305.67,298.75 L306.12,298.56 L306.57,298.38 L307.02,298.19 L307.47,298.00 L307.91,297.81 L308.35,297.61 L308.79,297.41 L309.23,297.21 L309.67,297.01 L310.10,296.80 L310.53,296.58 L310.96,296.36 L311.38,296.14 L311.81,295.92 L312.23,295.69 L312.65,295.46 L313.06,295.22 L313.47,294.98 L313.88,294.73 L314.29,294.48 L314.69,294.23 L315.09,293.97 L315.49,293.71 L315.88,293.44 L316.27,293.16 L316.66,292.89 L317.04,292.61 L317.42,292.32 L317.80,292.03 L318.18,291.74 L318.55,291.44 L318.92,291.14 L319.28,290.83 L319.65,290.52 L320.01,290.21 L320.36,289.89 L320.72,289.57 L321.07,289.25 L321.42,288.92 L321.76,288.59 L322.11,288.25 L322.45,287.91 L322.78,287.57 L323.12,287.22 L323.45,286.87 L323.78,286.52 L324.10,286.16 L324.42,285.80 L324.74,285.44 L325.06,285.07 L325.38,284.70 L325.69,284.33 L326.00,283.95 L326.30,283.57 L326.61,283.19 L326.91,282.81 L327.21,282.42 L327.50,282.03 L327.79,281.64 L328.08,281.24 L328.37,280.84 L328.66,280.44 L328.94,280.04 L329.22,279.63 L329.49,279.22 L329.77,278.81 L330.04,278.39 L330.31,277.98 L330.58,277.56 L330.84,277.14 L331.10,276.71 L331.36,276.29 L331.62,275.86 L331.87,275.43 L332.13,275.00 L332.38,274.57 L332.62,274.13 L332.87,273.69 L333.11,273.25 L333.35,272.81 L333.59,272.37 L333.82,271.92 L334.06,271.48 L334.29,271.03 L334.52,270.58 L334.74,270.13 L334.96,269.68 L335.19,269.22 L335.41,268.77 L335.62,268.31 L335.84,267.85 L336.05,267.39 L336.26,266.93 L336.47,266.47 L336.67,266.01 L336.88,265.55 L337.08,265.08 L337.28,264.62 L337.47,264.15 L337.67,263.68 L337.86,263.21 L338.05,262.75 L338.24,262.28 L338.43,261.81 L338.61,261.34 L338.79,260.86 L338.98,260.39 L339.15,259.92 L339.33,259.45 L339.50,258.98 L339.68,258.50 L339.85,258.03 L340.02,257.56 L340.18,257.08 L340.35,256.61 L340.51,256.14 L340.67,255.66 L340.83,255.19 L340.99,254.71 L341.14,254.24 L341.30,253.76 L341.45,253.29 L341.60,252.82 L341.75,252.34 L341.89,251.86 L342.04,251.39 L342.18,250.91 L342.32,250.44 L342.46,249.96 L342.60,249.49 L342.74,249.01 L342.88,248.53 L343.01,248.06 L343.14,247.58 L343.27,247.10 L343.40,246.63 L343.53,246.15 L343.66,245.67 L343.78,245.20 L343.91,244.72 L344.03,244.24 L344.15,243.76 L344.27,243.28 L344.39,242.81 L344.51,242.33 L344.62,241.85 L344.74,241.37 L344.85,240.89 L344.96,240.41 L345.08,239.93 L345.19,239.46 L345.30,238.98 L345.40,238.50 L345.51,238.02 L345.62,237.54 L345.72,237.06 L345.83,236.58 L345.93,236.10 L346.03,235.62 L346.13,235.14 L346.23,234.66 L346.33,234.18 L346.43,233.70 L346.53,233.22 L346.63,232.74 L346.72,232.25 L346.82,231.77 L346.91,231.29 L347.01,230.81 L347.10,230.33 L347.19,229.85 L347.28,229.37 L347.37,228.88 L347.47,228.40 L347.56,227.92 L347.64,227.44 L347.73,226.96 L347.82,226.47 L347.91,225.99 L348.00,225.51 L348.08,225.03 L348.17,224.54 L348.26,224.06 L348.34,223.58 L348.43,223.09 L348.51,222.61 L348.60,222.13 L348.68,221.64 L348.76,221.16 L348.85,220.68 L348.93,220.19 L349.01,219.71 L349.10,219.23 L349.18,218.74 L349.26,218.26 L349.34,217.77 L349.43,217.29 L349.51,216.81 L349.59,216.32 L349.67,215.84 L349.76,215.35 L349.84,214.87 L349.92,214.38 L350.00,213.90 L350.08,213.41 L350.17,212.93 L350.25,212.44 L350.33,211.96 L350.41,211.47 L350.50,210.99 L350.58,210.50 L350.66,210.02 L350.75,209.53 L350.83,209.04 L350.91,208.56 L351.00,208.07 L351.08,207.59 L351.17,207.10 L351.25,206.61 L351.34,206.13 L351.42,205.64 L351.51,205.16 L351.60,204.67 L351.69,204.18 L351.77,203.70 L351.86,203.21 L351.95,202.72 L352.04,202.24 L352.13,201.75 L352.22,201.26 L352.31,200.78 L352.41,200.29 L352.50,199.80 L352.59,199.32 L352.69,198.83 L352.78,198.34 L352.88,197.85 L352.97,197.37 L353.07,196.88 L353.17,196.39 L353.27,195.91 L353.37,195.42 L353.47,194.93 L353.57,194.44 L353.67,193.96 L353.77,193.47 L353.88,192.98 L353.98,192.49 L354.09,192.00" stroke="#ff6600"/>
</g>
<line x1="64.0" y1="197.4" x2="368.8" y2="197.4" stroke="#222" stroke-width="1.20"/>
<line x1="368.8" y1="197.4" x2="368.8" y2="335.8" stroke="#222" stroke-width="1.50"/>
<line x1="72.5" y1="335.8" x2="369.6" y2="335.8" stroke="#222" stroke-width="1.50"/>
<line x1="72.5" y1="196.9" x2="72.5" y2="336.6" stroke="#222" stroke-width="1.50"/>
<line x1="64.0" y1="260.5" x2="368.8" y2="260.5" stroke="#111" stroke-width="1.00"/>
<line x1="64.0" y1="197.4" x2="72.5" y2="197.4" stroke="#222" stroke-width="1.50"/>
<text x="59.2" y="203.8" text-anchor="end" font-size="18.5">10</text>
<line x1="64.0" y1="228.8" x2="72.5" y2="228.8" stroke="#222" stroke-width="1.50"/>
<text x="59.2" y="235.2" text-anchor="end" font-size="18.5">5</text>
<text x="59.2" y="266.6" text-anchor="end" font-size="18.5">0</text>
<line x1="64.0" y1="291.6" x2="72.5" y2="291.6" stroke="#222" stroke-width="1.50"/>
<text x="59.2" y="298.0" text-anchor="end" font-size="18.5">-5</text>
<line x1="64.0" y1="323.0" x2="72.5" y2="323.0" stroke="#222" stroke-width="1.50"/>
<text x="59.2" y="329.4" text-anchor="end" font-size="18.5">-10</text>
<line x1="68.0" y1="213.1" x2="72.5" y2="213.1" stroke="#222" stroke-width="1.50"/>
<line x1="68.0" y1="244.5" x2="72.5" y2="244.5" stroke="#222" stroke-width="1.50"/>
<line x1="68.0" y1="275.9" x2="72.5" y2="275.9" stroke="#222" stroke-width="1.50"/>
<line x1="68.0" y1="307.3" x2="72.5" y2="307.3" stroke="#222" stroke-width="1.50"/>
<line x1="72.5" y1="335.8" x2="72.5" y2="344.0" stroke="#222" stroke-width="1.50"/>
<text x="72.5" y="364.4" text-anchor="middle" font-size="18.5">-1.0</text>
<line x1="157.2" y1="335.8" x2="157.2" y2="344.0" stroke="#222" stroke-width="1.50"/>
<text x="157.2" y="364.4" text-anchor="middle" font-size="18.5">-0.5</text>
<line x1="242.0" y1="335.8" x2="242.0" y2="344.0" stroke="#222" stroke-width="1.50"/>
<text x="242.0" y="364.4" text-anchor="middle" font-size="18.5">0.0</text>
<line x1="326.8" y1="335.8" x2="326.8" y2="344.0" stroke="#222" stroke-width="1.50"/>
<text x="326.8" y="364.4" text-anchor="middle" font-size="18.5">0.5</text>
<line x1="114.9" y1="335.8" x2="114.9" y2="340.0" stroke="#222" stroke-width="1.50"/>
<line x1="199.6" y1="335.8" x2="199.6" y2="340.0" stroke="#222" stroke-width="1.50"/>
<line x1="284.4" y1="335.8" x2="284.4" y2="340.0" stroke="#222" stroke-width="1.50"/>
<line x1="369.1" y1="335.8" x2="369.1" y2="340.0" stroke="#222" stroke-width="1.50"/>
<text x="221" y="388.3" text-anchor="middle" font-size="19">V / V</text>
<text transform="translate(28.8,260.6) rotate(-90)" text-anchor="middle" font-size="19">J / mA/cm<tspan dy="-8" font-size="12">2</tspan></text>
<text x="3.4" y="196" font-size="19">b)</text>
<line x1="81.7" y1="207.3" x2="102.6" y2="207.3" stroke="#ff0000" stroke-width="3.4" stroke-linecap="round"/>
<text x="105.5" y="210.6" font-size="9.40" stroke="#000" stroke-width="0.18">PCPDTBT:PC<tspan font-size="5.9" dy="3">60</tspan><tspan dy="-3">BM</tspan></text>
<line x1="81.7" y1="221.7" x2="102.6" y2="221.7" stroke="#00b400" stroke-width="3.4" stroke-linecap="round"/>
<text x="105.5" y="225.0" font-size="9.40" stroke="#000" stroke-width="0.18">PCPDTBT:PC<tspan font-size="5.9" dy="3">60</tspan><tspan dy="-3">BM with ODT</tspan></text>
<line x1="81.7" y1="236.0" x2="102.6" y2="236.0" stroke="#ff6600" stroke-width="3.4" stroke-linecap="round"/>
<text x="105.5" y="239.3" font-size="9.40" stroke="#000" stroke-width="0.18">PCPDTBT:PC<tspan font-size="5.9" dy="3">70</tspan><tspan dy="-3">BM with ODT</tspan></text>
<line x1="81.7" y1="250.5" x2="102.6" y2="250.5" stroke="#0000ff" stroke-width="3.4" stroke-linecap="round"/>
<text x="105.5" y="253.8" font-size="9.40" stroke="#000" stroke-width="0.18">PSBTBT:PC<tspan font-size="5.9" dy="3">70</tspan><tspan dy="-3">BM</tspan></text></svg>
</body></html>
